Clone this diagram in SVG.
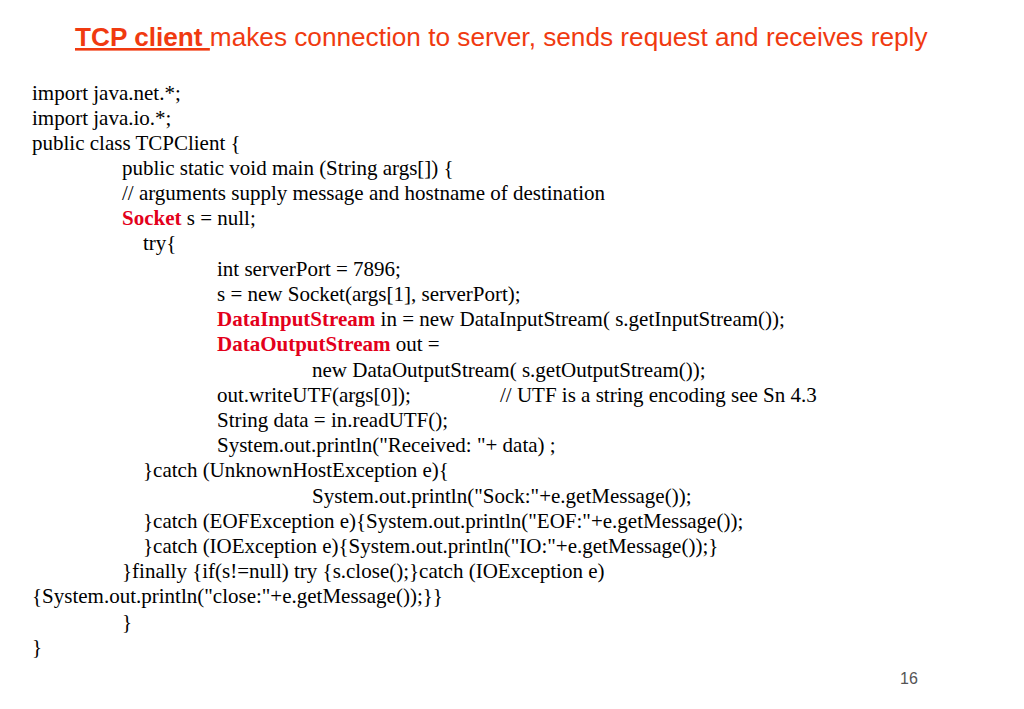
<svg xmlns="http://www.w3.org/2000/svg" width="1024" height="709" viewBox="0 0 1024 709">
<style>
.t{font-family:"Liberation Sans",Arial,sans-serif;font-size:26.2px;fill:#f03a10}
.c{font-family:"Liberation Serif","Times New Roman",serif;font-size:21px;fill:#000}
.r{fill:#e3001b}
</style>
<rect width="1024" height="709" fill="#fff"/>
<text class="t" x="75" y="46"><tspan font-weight="bold" text-decoration="underline">TCP client </tspan>makes connection to server, sends request and receives reply</text>
<g class="c">
<text x="32" y="100">import java.net.*;</text>
<text x="32" y="125">import java.io.*;</text>
<text x="32" y="150">public class TCPClient {</text>
<text x="122" y="175">public static void main (String args[]) {</text>
<text x="122" y="200">// arguments supply message and hostname of destination</text>
<text x="122" y="225"><tspan class="r" font-weight="bold">Socket</tspan> s = null;</text>
<text x="143" y="250">try{</text>
<text x="217" y="276">int serverPort = 7896;</text>
<text x="217" y="301">s = new Socket(args[1], serverPort);</text>
<text x="217" y="326"><tspan class="r" font-weight="bold">DataInputStream</tspan> in = new DataInputStream( s.getInputStream());</text>
<text x="217" y="351"><tspan class="r" font-weight="bold">DataOutputStream</tspan> out =</text>
<text x="312" y="377">new DataOutputStream( s.getOutputStream());</text>
<text x="217" y="402">out.writeUTF(args[0]);</text>
<text x="500" y="402">// UTF is a string encoding see Sn 4.3</text>
<text x="217" y="427">String data = in.readUTF();</text>
<text x="217" y="452">System.out.println("Received: "+ data) ;</text>
<text x="143" y="477">}catch (UnknownHostException e){</text>
<text x="312" y="503">System.out.println("Sock:"+e.getMessage());</text>
<text x="143" y="528">}catch (EOFException e){System.out.println("EOF:"+e.getMessage());</text>
<text x="143" y="553">}catch (IOException e){System.out.println("IO:"+e.getMessage());}</text>
<text x="122" y="578">}finally {if(s!=null) try {s.close();}catch (IOException e)</text>
<text x="32" y="603">{System.out.println("close:"+e.getMessage());}}</text>
<text x="122" y="629">}</text>
<text x="32" y="654">}</text>
</g>
<text x="900" y="684" font-family="Liberation Sans,Arial,sans-serif" font-size="16" fill="#555">16</text>
</svg>
